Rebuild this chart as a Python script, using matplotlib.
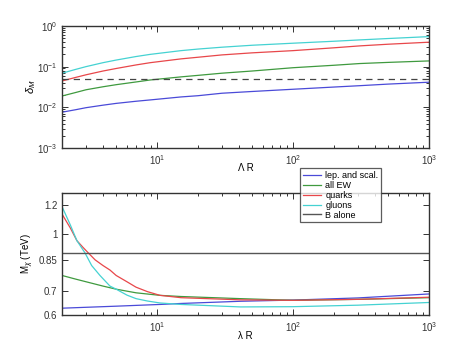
import numpy as np
import matplotlib.pyplot as plt
from matplotlib.ticker import FixedLocator, FixedFormatter, NullLocator

plt.rcParams['font.family'] = ['Liberation Sans', 'DejaVu Sans']
plt.rcParams['mathtext.fontset'] = 'custom'
plt.rcParams['mathtext.rm'] = 'Liberation Sans'
plt.rcParams['mathtext.it'] = 'Liberation Sans:italic'

# top panel: delta_M vs Lambda R
x_top = [2, 2.5, 3, 4, 5, 7, 8.9, 15, 20, 30, 50, 100, 200, 309, 500, 1000]
d_lep = [0.0076, 0.0087, 0.0098, 0.0113, 0.0125, 0.0141, 0.0152, 0.0180, 0.0193,
         0.0222, 0.0245, 0.0278, 0.0315, 0.034, 0.0372, 0.0414]
d_ew = [0.019, 0.023, 0.027, 0.032, 0.036, 0.042, 0.047, 0.056, 0.061,
        0.069, 0.078, 0.094, 0.108, 0.119, 0.127, 0.138]
d_quarks = [0.0445, 0.054, 0.063, 0.078, 0.090, 0.110, 0.125, 0.155, 0.170,
            0.194, 0.218, 0.247, 0.290, 0.323, 0.355, 0.398]
d_gluons = [0.069, 0.085, 0.10, 0.125, 0.145, 0.177, 0.20, 0.247, 0.27,
            0.30, 0.335, 0.376, 0.420, 0.453, 0.49, 0.546]
d_ref = 0.05

# bottom panel: M_chi vs lambda R
x_lep = [2, 5, 10.5, 15, 41, 100, 300, 1000]
m_lep = [0.626, 0.634, 0.641, 0.645, 0.654, 0.659, 0.668, 0.685]
x_ew = [2, 2.5, 3, 4, 5, 7, 10.5, 15, 41, 100, 300, 1000]
m_ew = [0.77, 0.753, 0.74, 0.72, 0.706, 0.69, 0.679, 0.674, 0.665, 0.658, 0.662, 0.669]
x_quarks = [2, 2.3, 2.57, 2.85, 3.12, 3.5, 4, 4.5, 5, 6, 7, 8.5, 10.5, 15, 41, 100, 300, 1000]
m_quarks = [1.135, 1.04, 0.96, 0.92, 0.888, 0.85, 0.82, 0.797, 0.77, 0.74, 0.715, 0.695,
            0.679, 0.669, 0.66, 0.658, 0.662, 0.671]
x_gluons = [2, 2.3, 2.57, 2.95, 3.3, 3.8, 4.5, 5, 6, 7, 8.5, 10.5, 15, 41, 100, 300, 1000]
m_gluons = [1.19, 1.06, 0.96, 0.888, 0.82, 0.77, 0.72, 0.706, 0.68, 0.665, 0.655, 0.647,
            0.641, 0.631, 0.632, 0.638, 0.649]
m_b_alone = 0.888

names = ['lep. and scal.', 'all EW', 'quarks', 'gluons', 'B alone']
colors = ['#4a4ad8', '#3f9a3f', '#e8474a', '#45d2d2', '#555555']

fig = plt.figure(figsize=(4.74, 3.55), dpi=100)
ax1 = fig.add_axes([0.131, 0.583, 0.774, 0.344])
ax2 = fig.add_axes([0.131, 0.113, 0.774, 0.344])

for ax in (ax1, ax2):
    ax.set_xscale('log')
    ax.set_yscale('log')
    ax.set_xlim(2, 1000)
    ax.tick_params(which='both', direction='in', top=True, right=True,
                   labelsize=7, colors='#333333', width=0.7)
    ax.tick_params(which='major', length=4)
    ax.tick_params(which='minor', length=2)
    for s in ax.spines.values():
        s.set_color('#333333')
        s.set_linewidth(1.0)

lw = 0.9
for ys, c in zip([d_lep, d_ew, d_quarks, d_gluons], colors):
    ax1.plot(x_top, ys, color=c, lw=lw)
ax1.axhline(d_ref, color='#444444', lw=0.9, ls=(0, (5, 4)))
ax1.set_ylim(1e-3, 1)
ax1.set_xlabel('Λ R', fontsize=7)
ax1.xaxis.set_label_coords(0.5, -0.12)
ax1.set_ylabel(r'$\delta_M$', fontsize=8)
ax1.yaxis.set_label_coords(-0.065, 0.5)

series = [(x_lep, m_lep), (x_ew, m_ew), (x_quarks, m_quarks), (x_gluons, m_gluons)]
handles = []
for (xs, ys), c, n in zip(series, colors, names):
    h, = ax2.plot(xs, ys, color=c, lw=lw, label=n)
    handles.append(h)
h = ax2.axhline(m_b_alone, color=colors[4], lw=1.0, label=names[4])
handles.append(h)
ax2.set_ylim(0.6, 1.3)
yt = [0.6, 0.7, 0.85, 1, 1.2]
ax2.yaxis.set_major_locator(FixedLocator(yt))
ax2.yaxis.set_major_formatter(FixedFormatter(['0.6', '0.7', '0.85', '1', '1.2']))
ax2.yaxis.set_minor_locator(NullLocator())
ax2.set_xlabel('λ R', fontsize=7)
ax2.xaxis.set_label_coords(0.5, -0.13)
ax2.set_ylabel(r'M$_\chi$ (TeV)', fontsize=7)
ax2.yaxis.set_label_coords(-0.07, 0.5)

leg = fig.legend(handles=handles, loc='upper left', bbox_to_anchor=(0.633, 0.526),
                 fontsize=6.5, frameon=True, fancybox=False, handlelength=2.0,
                 handletextpad=0.5, borderpad=0.3, labelspacing=0.1,
                 borderaxespad=0)
leg.get_frame().set_edgecolor('#333333')
leg.get_frame().set_linewidth(0.9)

fig.savefig('out.png', dpi=100)
